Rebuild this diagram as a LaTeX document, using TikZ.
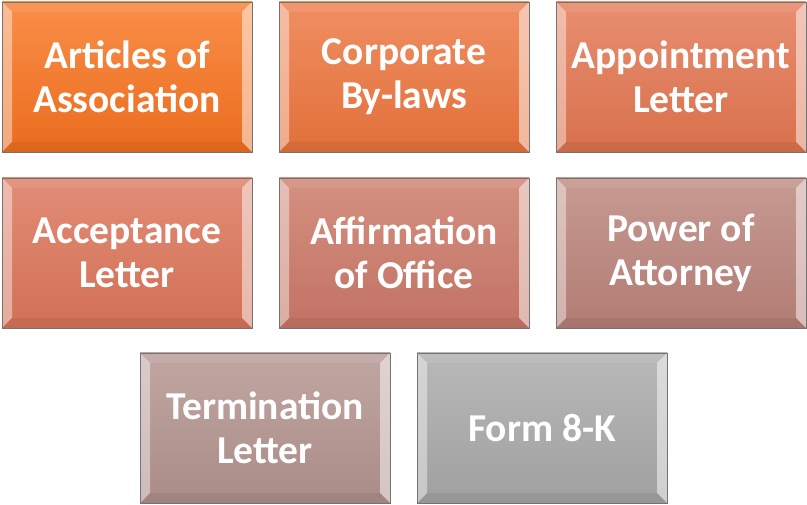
\documentclass[tikz,border=0pt]{standalone}
\usepackage{fontspec}
\setmainfont{Carlito}
\begin{document}
\begin{tikzpicture}[x=1pt,y=1pt,
  bevbox/.style 2 args={rectangle, minimum width=250pt, minimum height=150pt,
    inner sep=0pt, top color=#1, bottom color=#2, draw=black!55, line width=0.8pt,
    text=white, align=center, font=\fontsize{39.5}{44}\selectfont\bfseries,
    path picture={
      \fill[white,opacity=0.42] (path picture bounding box.south west) -- (path picture bounding box.north west)
        -- ([shift={(10pt,-10pt)}]path picture bounding box.north west) -- ([shift={(10pt,10pt)}]path picture bounding box.south west) -- cycle;
      \fill[white,opacity=0.5] (path picture bounding box.south east) -- (path picture bounding box.north east)
        -- ([shift={(-10pt,-10pt)}]path picture bounding box.north east) -- ([shift={(-10pt,10pt)}]path picture bounding box.south east) -- cycle;
      \fill[white,opacity=0.08] (path picture bounding box.north west) -- (path picture bounding box.north east)
        -- ([shift={(-10pt,-10pt)}]path picture bounding box.north east) -- ([shift={(10pt,-10pt)}]path picture bounding box.north west) -- cycle;
      \fill[black,opacity=0.06] (path picture bounding box.south west) -- (path picture bounding box.south east)
        -- ([shift={(-10pt,10pt)}]path picture bounding box.south east) -- ([shift={(10pt,10pt)}]path picture bounding box.south west) -- cycle;
    }}]
\useasboundingbox (0,0) rectangle (807,-505);
\definecolor{a1}{RGB}{250,142,72}\definecolor{a2}{RGB}{234,108,30}
\definecolor{b1}{RGB}{240,142,98}\definecolor{b2}{RGB}{226,112,58}
\definecolor{c1}{RGB}{232,142,112}\definecolor{c2}{RGB}{216,112,76}
\definecolor{d1}{RGB}{226,140,118}\definecolor{d2}{RGB}{210,112,86}
\definecolor{e1}{RGB}{212,144,128}\definecolor{e2}{RGB}{194,114,100}
\definecolor{f1}{RGB}{198,154,146}\definecolor{f2}{RGB}{178,124,116}
\definecolor{g1}{RGB}{192,166,162}\definecolor{g2}{RGB}{170,140,136}
\definecolor{h1}{RGB}{184,184,184}\definecolor{h2}{RGB}{160,160,160}
\node[bevbox={a1}{a2}] (art) at (127,-77) {Articles of\\Association};
\node[bevbox={b1}{b2}] (byl) at (404,-77) {Corporate\\By-laws};
\node[bevbox={c1}{c2}] (app) at (681,-77) {Appointment\\Letter};
\node[bevbox={d1}{d2}] (acc) at (127,-253) {Acceptance\\Letter};
\node[bevbox={e1}{e2}] (aff) at (404,-253) {Affirmation\\of Office};
\node[bevbox={f1}{f2}] (poa) at (681,-253) {Power of\\Attorney};
\node[bevbox={g1}{g2}] (ter) at (265,-428) {Termination\\Letter};
\node[bevbox={h1}{h2}] (f8k) at (542,-428) {Form 8-K};
\end{tikzpicture}
\end{document}
